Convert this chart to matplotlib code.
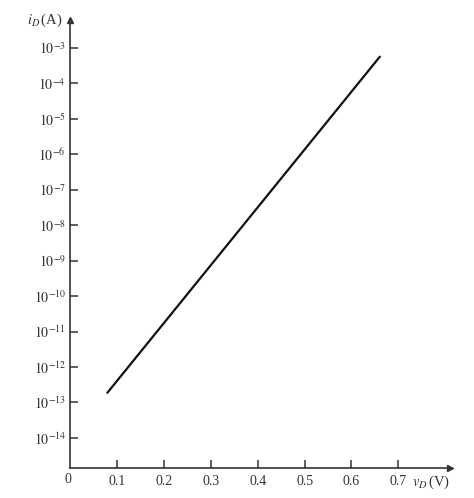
import matplotlib
matplotlib.use("Agg")
import matplotlib.pyplot as plt
import numpy as np

# diode i-v characteristic, endpoints
v_D = [0.08, 0.66]
i_D = [1.9e-13, 5.6e-4]

x_ticks = [0.1, 0.2, 0.3, 0.4, 0.5, 0.6, 0.7]
x_labels = ["0.1", "0.2", "0.3", "0.4", "0.5", "0.6", "0.7"]
y_exps = [-3, -4, -5, -6, -7, -8, -9, -10, -11, -12, -13, -14]

plt.rcParams['font.family'] = ['Liberation Serif', 'DejaVu Serif']
plt.rcParams['mathtext.fontset'] = 'stix'

fig = plt.figure(figsize=(4.74, 4.98), dpi=100)
ax = fig.add_axes([0.1477, 0.0602, 0.8017, 0.8996])

ax.plot(v_D, i_D, color='#111111', lw=1.6)

ax.set_yscale('log')
ax.set_xlim(0, 0.81)
ax.set_ylim(10 ** -14.85, 10 ** -2.21)

ax.set_xticks(x_ticks)
ax.set_xticklabels(x_labels)
ax.set_yticks([10.0 ** e for e in y_exps])
ax.set_yticklabels([r"$10^{%d}$" % e for e in y_exps])
ax.yaxis.set_minor_locator(matplotlib.ticker.NullLocator())

ax.tick_params(axis='both', direction='in', length=6, width=1.1,
               color='#333333', labelcolor='#333333', labelsize=10)
ax.tick_params(axis='x', pad=5)
ax.tick_params(axis='y', pad=3)

for s in ['top', 'right']:
    ax.spines[s].set_visible(False)
for s in ['left', 'bottom']:
    ax.spines[s].set_color('#333333')
    ax.spines[s].set_linewidth(1.2)

# arrow heads on axes
ax.plot(1, 0, marker='>', color='#333333', ms=5, transform=ax.transAxes, clip_on=False)
ax.plot(0, 1, marker='^', color='#333333', ms=5, transform=ax.transAxes, clip_on=False)

ax.text(-0.005, -0.012, "0", transform=ax.transAxes, ha='center', va='top',
        fontsize=10, color='#333333')
ax.text(-0.02, 1.0, r"$i_D\,$(A)", transform=ax.transAxes, ha='right', va='center',
        fontsize=10.5, color='#333333')
ax.text(0.9, -0.012, r"$v_D\,$(V)", transform=ax.transAxes, ha='left', va='top',
        fontsize=10.5, color='#333333')

plt.savefig("out.png", dpi=100)
